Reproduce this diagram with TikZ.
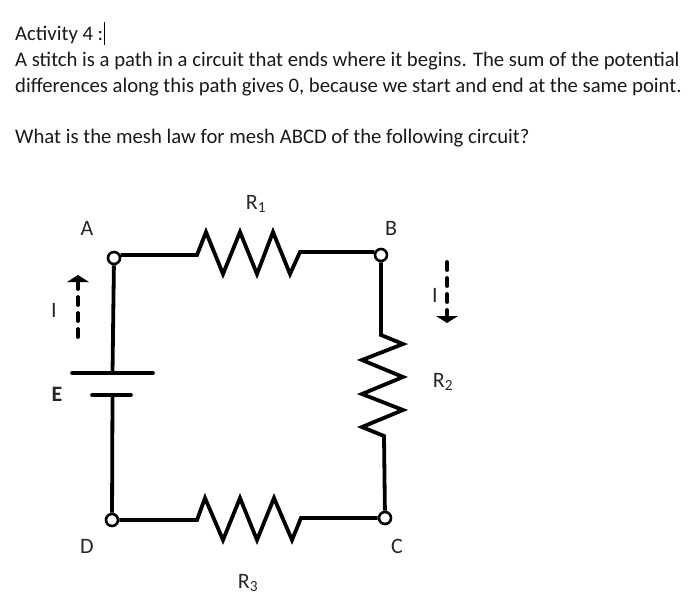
\documentclass[tikz,border=0pt]{standalone}
\usepackage{fontspec}
\setmainfont{Carlito}
\tikzset{
  wire/.style={line width=3.8pt,line join=miter},
  plate/.style={line width=3.6pt,line cap=round},
  terminal/.style={circle,draw,line width=2.6pt,fill=white,inner sep=0pt,minimum size=12pt},
  current/.style={line width=3.8pt,dash pattern=on 8pt off 8pt,line cap=round},
  head/.style={draw=none,fill=black},
  para/.style={anchor=base west,inner sep=0pt,text=black!90,font=\fontsize{20.7}{24}\selectfont},
  lab/.style={inner sep=0pt,text=black!85,font=\fontsize{22}{24}\selectfont},
}
\begin{document}
\begin{tikzpicture}[x=1pt,y=-1pt]
\useasboundingbox (0,0) rectangle (700,602);
% text
\node[para] (title) at (15,41) {Activity 4 :};
\node[para] (line1) at (15,66) {A stitch is a path in a circuit that ends where it begins. The sum of the potential};
\node[para] (line2) at (15,92) {differences along this path gives 0, because we start and end at the same point.};
\node[para] (line3) at (15,143) {What is the mesh law for mesh ABCD of the following circuit?};
\draw[line width=.8pt] (104,22) -- (104,45);

% terminals
\node[terminal] (A) at (114,258) {};
\node[terminal] (B) at (381,255) {};
\node[terminal] (C) at (385,518) {};
\node[terminal] (D) at (112,520) {};

% battery
\coordinate (Eplus) at (112.5,373);
\coordinate (Eminus) at (112.5,395);
\draw[plate] (72,373) -- (153,373);
\draw[plate] (92,395) -- (131,395);
\draw[wire] (A) -- (Eplus);
\draw[wire] (Eminus) -- (D);

% resistors
\draw[wire] (A.25) -- (197,255) -- ++(9,-23) -- ++(17,42) -- ++(17,-42) -- ++(17,42) -- ++(16,-42) -- ++(17,42) -- ++(10,-22) -- (B.155);
\draw[wire] (B) -- (381,335) -- ++(22,9) -- ++(-41,16) -- ++(41,17) -- ++(-41,17) -- ++(41,16) -- ++(-41,17) -- ++(22,9) -- (C);
\draw[wire] (D) -- (197,520) -- ++(8,-22) -- ++(18,42) -- ++(17,-42) -- ++(17,42) -- ++(17,-42) -- ++(18,42) -- ++(9,-22) -- (C);

% currents
\draw[current] (78,337) -- (78,281);
\fill[head] (67,282) -- (78,275) -- (89,282) -- cycle;
\draw[current] (447,262) -- (447,318);
\fill[head] (436,316) -- (447,323) -- (458,316) -- cycle;

% labels
\node[lab] (lA) at (87,228) {A};
\node[lab] (lB) at (391,228) {B};
\node[lab] (lC) at (397,546) {C};
\node[lab] (lD) at (87,546) {D};
\node[lab,font=\fontsize{22}{24}\selectfont\bfseries] (lE) at (57,394) {E};
\node[lab] (lIa) at (54,310) {I};
\node[lab] (lIb) at (435,295) {I};
\node[lab] (lR1) at (256,204) {R\textsubscript{1}};
\node[lab] (lR2) at (443,382) {R\textsubscript{2}};
\node[lab] (lR3) at (248,583) {R\textsubscript{3}};
\end{tikzpicture}
\end{document}
